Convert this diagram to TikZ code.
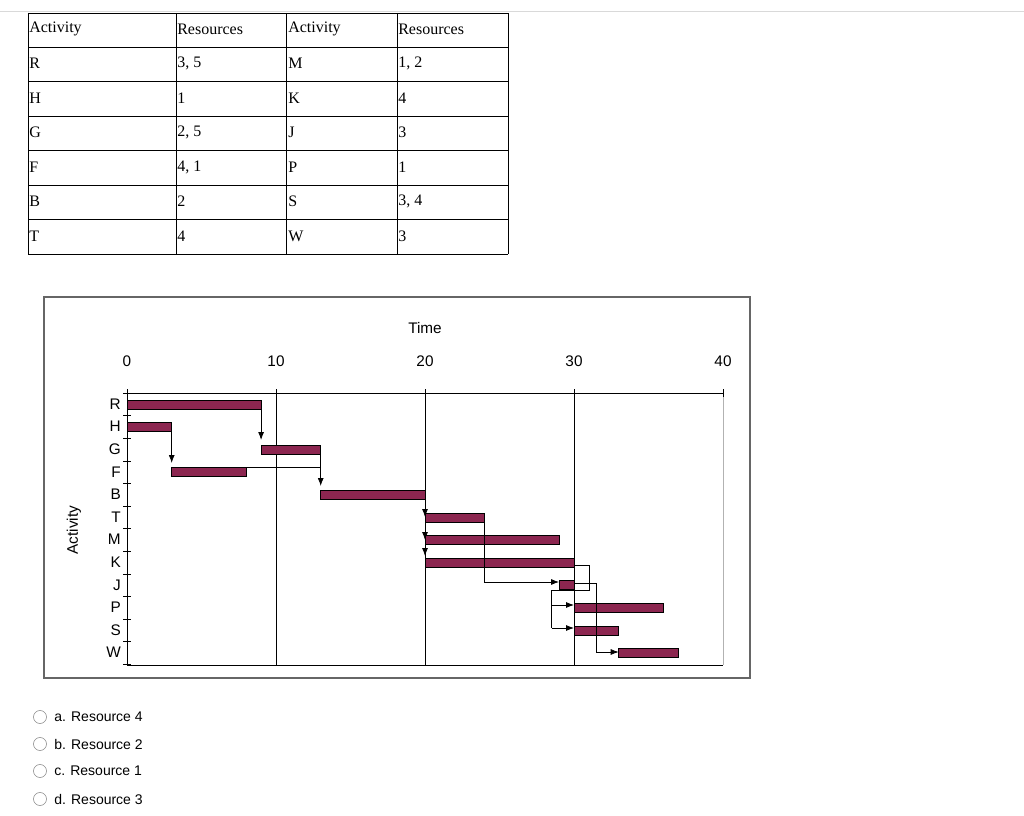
\documentclass[tikz,border=0pt]{standalone}
\usepackage{fontspec}
\setmainfont{Liberation Serif}
\newfontfamily\sansf{Liberation Sans}
\usetikzlibrary{arrows.meta}
\definecolor{barc}{RGB}{140,38,80}
\begin{document}
\begin{tikzpicture}[x=0.75pt,y=-0.75pt,
  cell/.style={anchor=west,inner sep=0pt,font=\fontsize{12}{12}\selectfont},
  bar/.style={draw=black,fill=barc,line width=0.5pt},
  lnk/.style={draw=black,line width=0.6pt},
  arr/.style={lnk,-{Latex[length=6pt,width=4.5pt]}},
  lab/.style={font=\sansf\fontsize{11.5}{12}\selectfont,inner sep=0pt},
  opt/.style={font=\sansf\fontsize{10.5}{12}\selectfont,anchor=west,inner sep=0pt}]
\useasboundingbox (0,0) rectangle (1024,816);
\draw[gray!30] (0,11) -- (1024,11);
% table
\foreach \x in {28,176,286,397,508} \draw (\x,13) -- (\x,254);
\foreach \y in {13,47,81,116,150,185,219,254} \draw (28,\y) -- (508,\y);
\node[cell] (h1) at (29,29) {Activity};
\node[cell] (h2) at (177,29) {Resources};
\node[cell] (h3) at (288,29) {Activity};
\node[cell] (h4) at (398,29) {Resources};
\foreach \a/\b/\c/\d [count=\i] in {R/{3, 5}/M/{1, 2},H/1/K/4,G/{2, 5}/J/3,F/{4, 1}/P/1,B/2/S/{3, 4},T/4/W/3}{
  \node[cell] (c1\i) at (29,{29+34.5*\i}) {\a};
  \node[cell] (c2\i) at (177,{29+34.5*\i}) {\b};
  \node[cell] (c3\i) at (288,{29+34.5*\i}) {\c};
  \node[cell] (c4\i) at (398,{29+34.5*\i}) {\d};
}
% chart frame
\draw[gray!80!black,line width=1pt] (44,297) rectangle (750,678);
\node[lab] (time) at (425,328) {Time};
\foreach \t in {0,10,20,30,40} \node[lab] (n\t) at ({127+14.9*\t},361) {\t};
\draw[gray!60] (723,393) -- (723,665);
\draw (127,665) -- (723,665);
\draw[line width=0.7pt] (127,393) -- (723,393);
\foreach \t in {0,10,20,30,40} \draw ({127+14.9*\t},389) -- ({127+14.9*\t},397);
\foreach \t in {10,20,30} \draw[line width=0.6pt] ({127+14.9*\t},393) -- ({127+14.9*\t},665);
\draw[line width=0.7pt] (127,393) -- (127,665);
\foreach \i in {0,...,12} \draw (123,{393+22.6*\i}) -- (131,{393+22.6*\i});
\node[lab,rotate=90] (act) at (74,530) {Activity};
\foreach \n/\s/\e [count=\i from 0] in {R/0/9,H/0/3,G/9/13,F/3/8,B/13/20,T/20/24,M/20/29,K/20/30,J/29/30,P/30/36,S/30/33,W/33/37}{
  \node[lab,anchor=east] (l\n) at (121,{404+22.6*\i}) {\n};
  \path[bar] ({127+14.9*\s},{400+22.6*\i}) rectangle ({127+14.9*\e},{409+22.6*\i});
}
\def\X#1{127+14.9*#1}
% links
\draw[arr] ({\X{9}},409) -- ({\X{9}},440);
\draw[arr] ({\X{3}},429) -- ({\X{3}},463);
\draw[lnk] ({\X{8}},467) -- ({\X{13}},467);
\draw[arr] ({\X{13}},451) -- ({\X{13}},486);
\draw[arr] ({\X{20}},497) -- ({\X{20}},517);
\draw[arr] ({\X{20}},519) -- ({\X{20}},540);
\draw[arr] ({\X{20}},542) -- ({\X{20}},556);
\draw[arr] ({\X{24}},518) -- ({\X{24}},582) -- ({\X{29}},582);
\draw[lnk] ({\X{30}},565) -- ({\X{31}},565) -- ({\X{31}},590) -- ({\X{28.5}},590) -- ({\X{28.5}},628);
\draw[arr] ({\X{28.5}},605) -- ({\X{30}},605);
\draw[arr] ({\X{28.5}},628) -- ({\X{30}},628);
\draw[arr] ({\X{30}},583) -- ({\X{31.5}},583) -- ({\X{31.5}},652) -- ({\X{33}},652);
% options
\foreach \t/\y [count=\i] in {{a. Resource 4}/717,{b. Resource 2}/744,{c. Resource 1}/771,{d. Resource 3}/799}{
  \draw[gray] (40,\y) circle (6.5);
  \node[opt] (o\i) at (54,\y) {\t};
}
\end{tikzpicture}
\end{document}
